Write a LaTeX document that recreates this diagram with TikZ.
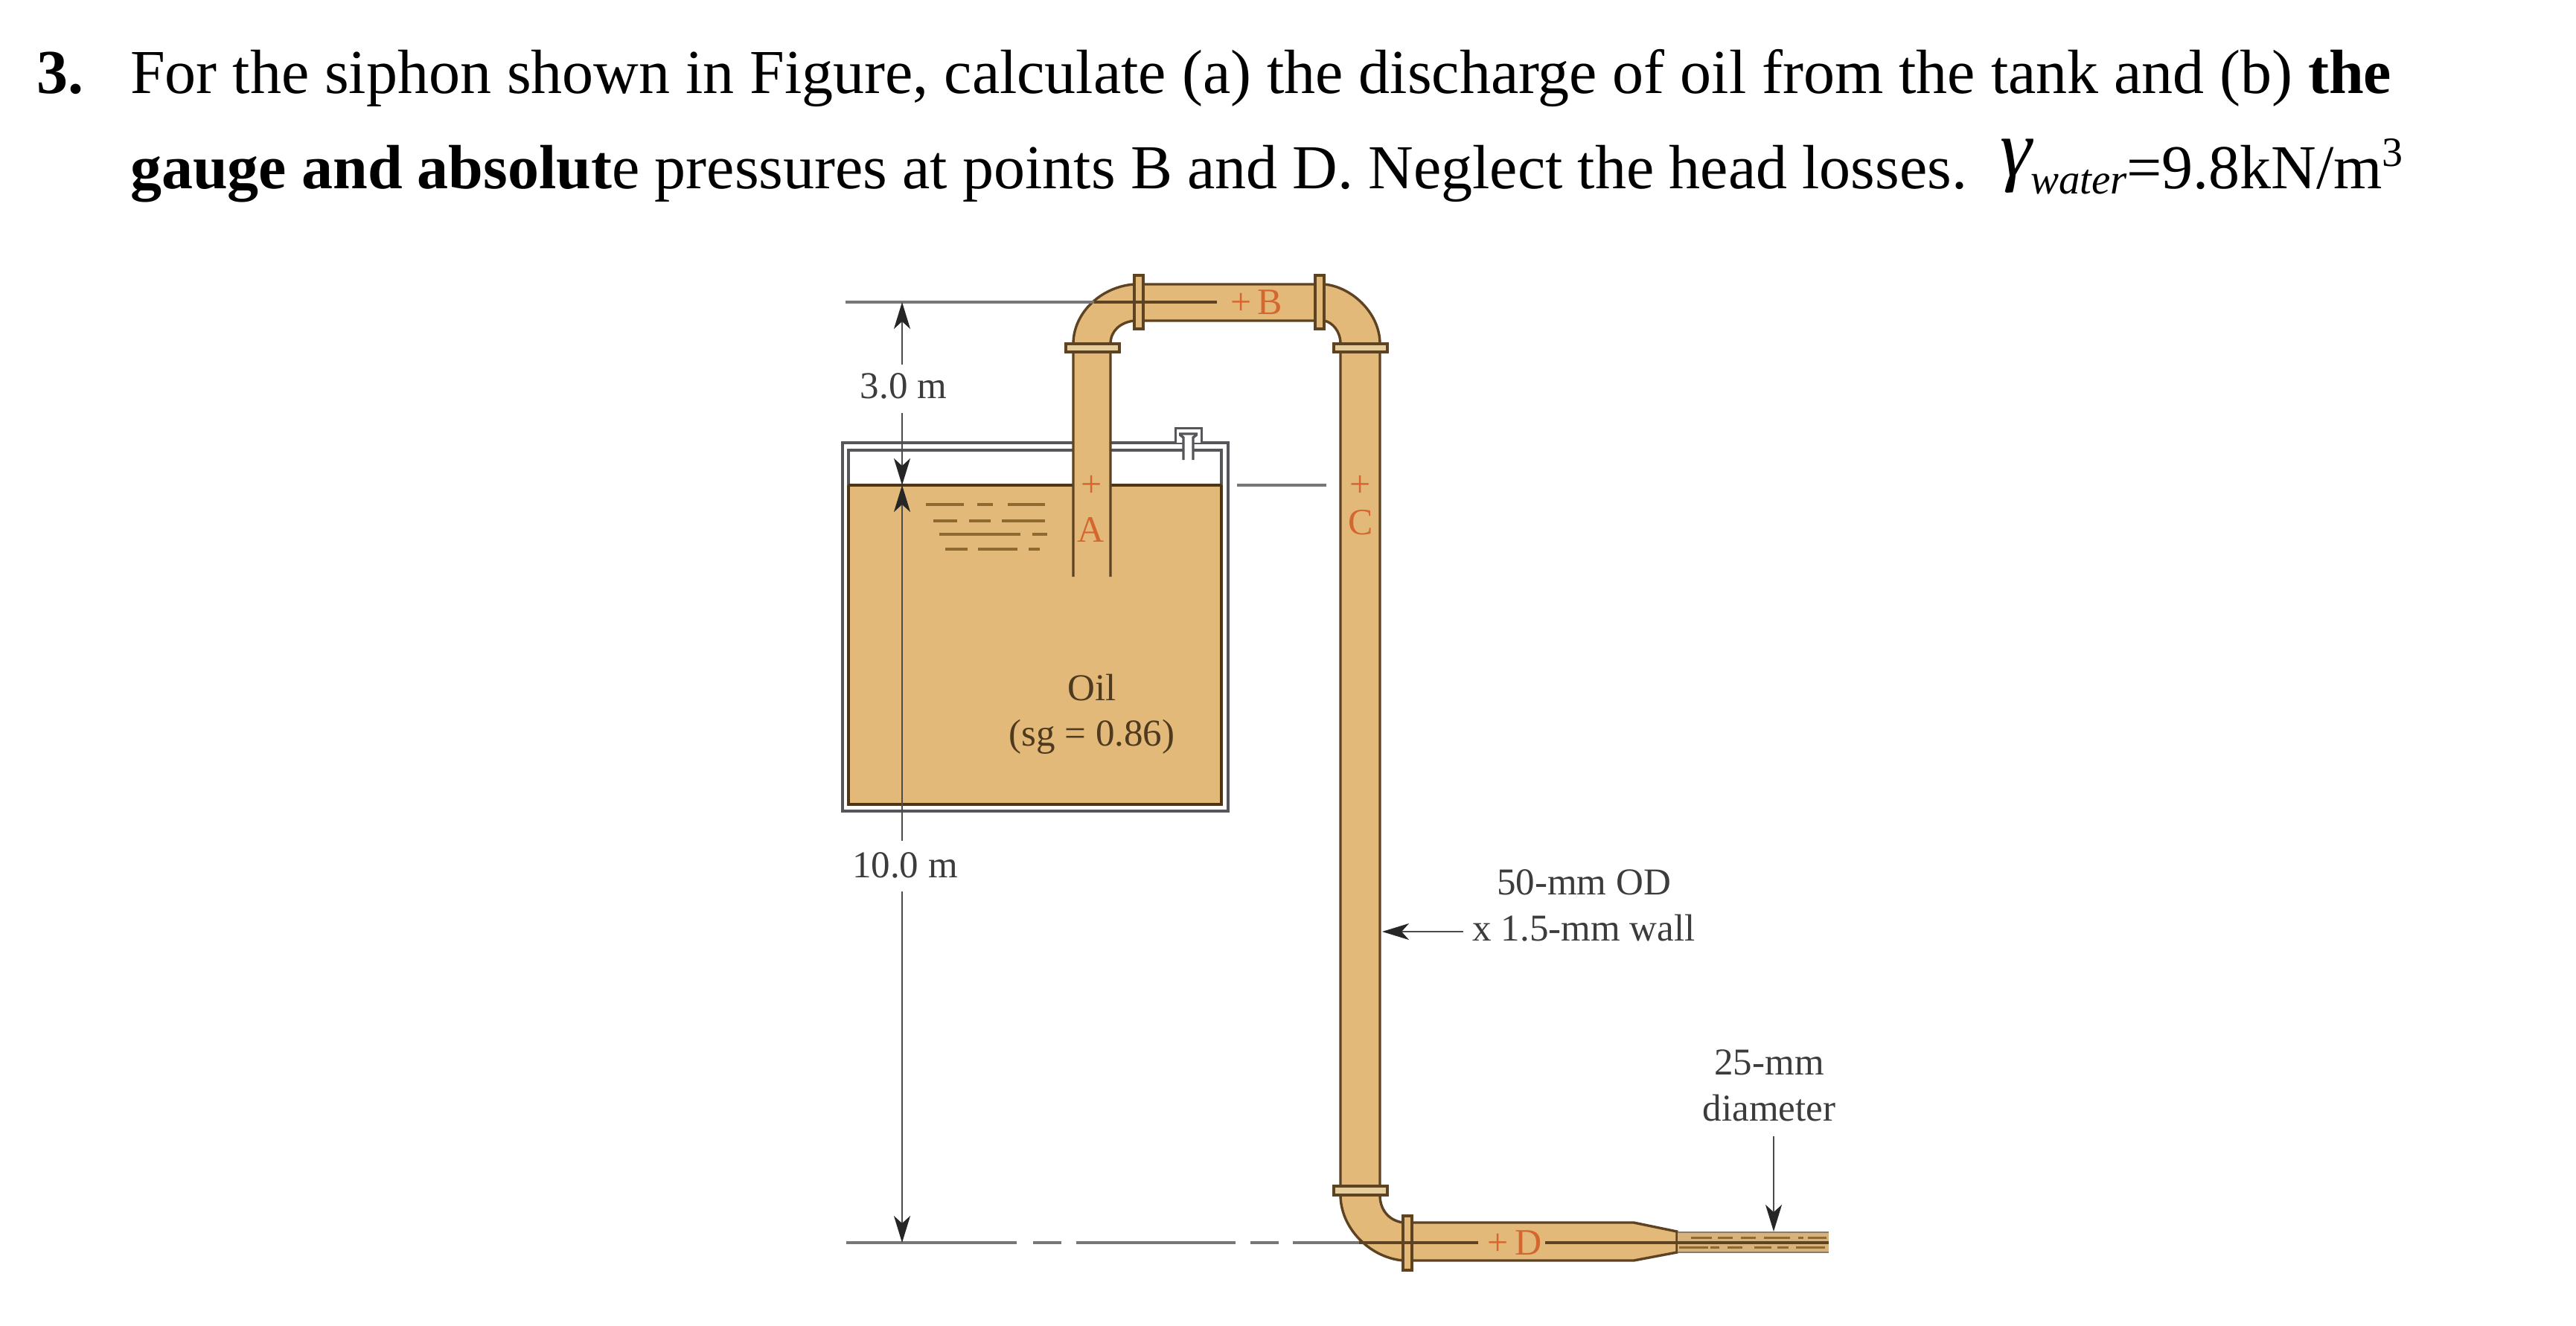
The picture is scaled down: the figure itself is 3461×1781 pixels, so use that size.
\documentclass[tikz,border=0pt]{standalone}
\usepackage{fontspec}
\setmainfont{Liberation Serif}
\usetikzlibrary{arrows.meta}
\definecolor{oil}{HTML}{E3B97A}
\definecolor{pipeline}{HTML}{5E4323}
\definecolor{flange}{HTML}{E6CD9E}
\definecolor{tankline}{HTML}{55555A}
\definecolor{dimline}{HTML}{4C4C4C}
\definecolor{extline}{HTML}{77777A}
\definecolor{labelcol}{HTML}{3C3C3C}
\definecolor{oillabel}{HTML}{4E3A1E}
\definecolor{point}{HTML}{D4672F}
\definecolor{dash}{HTML}{8F6A30}
\newcommand{\bodyfont}{\fontsize{84}{100}\selectfont}
\tikzset{
  x=1pt,y=-1pt,
  lab/.style={font=\fontsize{51}{61.5}\selectfont,text=labelcol,inner sep=0pt,align=center},
  ptlab/.style={font=\fontsize{50}{60}\selectfont,text=point,inner sep=0pt},
  headline/.style={font=\bodyfont,text=black,inner sep=0pt,anchor=base west},
  pipeedge/.style={draw=pipeline,line width=3.4pt},
  flangebox/.style={draw=pipeline,line width=3.4pt,fill=flange},
  tankedge/.style={draw=tankline,line width=3.6pt},
  oiledge/.style={draw=pipeline!80!black,line width=3.6pt},
  dimthin/.style={draw=dimline,line width=2.4pt},
  ext/.style={draw=extline,line width=3.6pt},
  tip/.style={-{Stealth[length=36pt,width=22pt,inset=10pt,color=black!85]}},
  oildash/.style={draw=dash,line width=3.4pt},
  jetdash/.style={draw=dash,line width=3pt},
}
\begin{document}
\begin{tikzpicture}
\useasboundingbox[fill=white] (0,0) rectangle (3461,1781);

% --- statement ---
\node[headline,font=\bodyfont\bfseries] (num) at (49,125) {3.};
\node[headline] (l1) at (175,125) {\makebox[3038pt][s]{For the siphon shown in Figure, calculate (a) the discharge of oil from the tank and (b) \textbf{the}}};
\node[headline] (l2) at (175,253) {\makebox[2468pt][s]{\textbf{gauge and absolut}e pressures at points B and D. Neglect the head losses.}};
\node[headline] (l3) at (2687,253) {\makebox[41pt][l]{\raisebox{17pt}{\fontsize{108}{110}\selectfont\itshape γ}}\makebox[129pt][l]{\raisebox{-7pt}{\fontsize{57}{60}\selectfont\itshape water}}=9.8kN/m\raisebox{30pt}{\fontsize{56}{60}\selectfont 3}};

% --- tank ---
\path[tankedge] (1132,595) rectangle (1650,1090);
\path[draw=tankline,fill=white,line width=3.6pt] (1140,605) rectangle (1641,1081);
\path[fill=oil] (1140,652) rectangle (1641,1081);
\path[oiledge] (1140,652) -- (1140,1081) -- (1641,1081) -- (1641,652);
\path[oiledge] (1140,652) -- (1641,652);

% --- filler cap ---
\path[fill=white] (1589,590) rectangle (1604,612);
\path[draw=tankline,fill=white,line width=3pt] (1579,595) -- (1579,575) -- (1614,575) -- (1614,595);
\path[draw=tankline,line width=3.4pt] (1590,618) -- (1590,588) -- (1585,584) (1603,618) -- (1603,588) -- (1608,584) (1584,583) -- (1609,583);

% --- surface dashes ---
\foreach \yy/\aa/\bb in {678/1244/1295,678/1313/1334,678/1354/1404,
  700/1254/1286,700/1302/1331,700/1346/1404,
  718/1262/1371,718/1387/1407,
  738/1270/1300,738/1314/1367,738/1382/1397}
  \path[oildash] (\aa,\yy) -- (\bb,\yy);

% --- siphon pipe ---
\path[fill=oil] (1442,775) -- (1442,462)
  .. controls (1442,420) and (1480,385) .. (1524,382) -- (1779,382)
  .. controls (1815,385) and (1854,420) .. (1854,462)
  -- (1854,1606) .. controls (1854,1625) and (1865,1640) .. (1885,1643)
  -- (2195,1643) -- (2253,1655) -- (2253,1683) -- (2195,1694) -- (1885,1694)
  .. controls (1840,1690) and (1801,1650) .. (1801,1606)
  -- (1801,462) .. controls (1801,445) and (1790,433) .. (1779,431)
  -- (1524,431) .. controls (1505,433) and (1492,445) .. (1492,462)
  -- (1492,775) -- cycle;
\path[pipeedge] (1442,775) -- (1442,462) .. controls (1442,420) and (1480,385) .. (1524,382) -- (1779,382)
  .. controls (1815,385) and (1854,420) .. (1854,462) -- (1854,1606)
  .. controls (1854,1625) and (1865,1640) .. (1885,1643) -- (2195,1643) -- (2253,1655) -- (2253,1683)
  -- (2195,1694) -- (1885,1694) .. controls (1840,1690) and (1801,1650) .. (1801,1606)
  -- (1801,462) .. controls (1801,445) and (1790,433) .. (1779,431) -- (1524,431)
  .. controls (1505,433) and (1492,445) .. (1492,462) -- (1492,775);

% --- free jet ---
\path[fill=oil!88!gray] (2254,1656) rectangle (2457,1683);
\path[draw=pipeline!70!white,line width=2.6pt] (2254,1656) -- (2457,1656) (2254,1683) -- (2457,1683);
\foreach \yy/\aa/\bb in {1663/2272/2300,1663/2308/2328,1663/2339/2359,1663/2370/2405,1663/2416/2423,1663/2429/2454,
  1676/2256/2295,1676/2298/2310,1676/2321/2341,1676/2357/2380,1676/2388/2403,1676/2413/2452}
  \path[jetdash] (\aa,\yy) -- (\bb,\yy);

% --- flanges ---
\path[flangebox] (1432,462) rectangle (1504,473);
\path[flangebox] (1792,462) rectangle (1864,473);
\path[flangebox] (1792,1594) rectangle (1864,1606);
\path[flangebox,fill=oil] (1524,370) rectangle (1536,442);
\path[flangebox,fill=oil] (1767,370) rectangle (1779,442);
\path[flangebox,fill=oil] (1885,1634) rectangle (1897,1707);

% --- extension lines ---
\coordinate (topL) at (1136,406);
\coordinate (topR) at (1635,406);
\coordinate (botL) at (1137,1670);
\coordinate (lvlL) at (1662,652);
\coordinate (lvlR) at (1782,652);
\path[ext] (topL) -- (1470,406);
\path[draw=pipeline,line width=3.6pt] (1470,406) -- (topR);
\path[ext] (lvlL) -- (lvlR);
\path[ext] (botL) -- (1366,1670);
\path[ext] (1388,1670) -- (1426,1670);
\path[ext] (1446,1670) -- (1660,1670);
\path[ext] (1680,1670) -- (1718,1670);
\path[ext] (1737,1670) -- (1826,1670);
\path[draw=pipeline,line width=3.4pt] (1826,1670) -- (1986,1670);
\path[draw=pipeline,line width=3.4pt] (2076,1670) -- (2457,1670);

% --- dimensions ---
\node[lab] (d3) at (1214,519) {3.0 m};
\node[lab] (d10) at (1216,1163) {10.0 m};
\coordinate (dimTop) at (1212,406);
\coordinate (dimLvl) at (1212,652);
\coordinate (dimBot) at (1212,1670);
\path[dimthin,tip] (1212,490) -- (dimTop);
\path[dimthin,tip] (1212,555) -- (dimLvl);
\path[dimthin,tip] (1212,1130) -- (dimLvl);
\path[dimthin,tip] (1212,1198) -- (dimBot);

% --- point labels ---
\node[ptlab] (pA) at (1467,653) {+};
\node[ptlab] (lA) at (1466,712) {A};
\node[ptlab] (pC) at (1828,653) {+};
\node[ptlab] (lC) at (1828,702) {C};
\node[ptlab] (lB) at (1688,406) {+\kern8pt B};
\node[ptlab] (lD) at (2035,1670) {+\kern8pt D};

% --- text labels ---
\node[lab,text=oillabel] (oiltxt) at (1467,960) {Oil\\(sg = 0.86)};
\node[lab] (wall) at (2128,1217) {50-mm OD\\x 1.5-mm wall};
\node[lab] (dia) at (2377,1459) {25-mm\\diameter};
\coordinate (wallTip) at (1857,1252);
\coordinate (wallEnd) at (1966,1252);
\coordinate (jetTip) at (2383,1655);
\coordinate (jetEnd) at (2383,1527);
\path[dimthin,tip] (wallEnd) -- (wallTip);
\path[dimthin,tip] (jetEnd) -- (jetTip);
\end{tikzpicture}
\end{document}
